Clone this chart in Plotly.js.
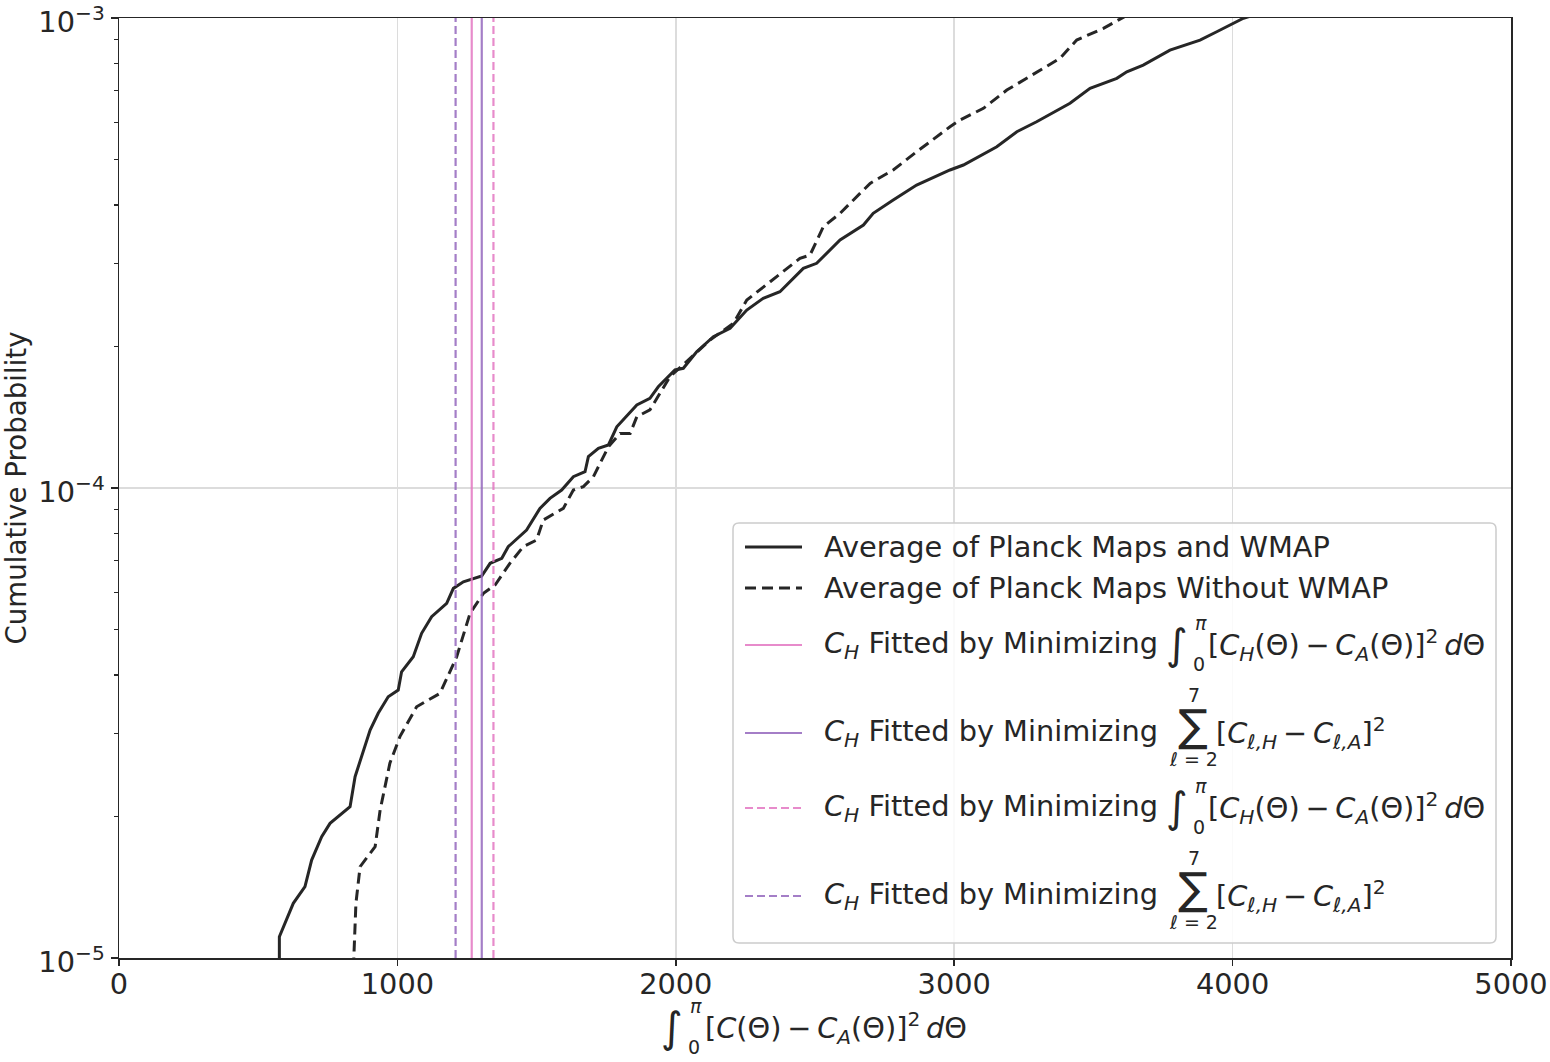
<!DOCTYPE html>
<html>
<head>
<meta charset="utf-8">
<script src="https://cdn.plot.ly/plotly-3.0.1.min.js"></script>
<style>html,body{margin:0;padding:0;background:#fff;}#chart{width:1550px;height:1062px;}</style>
</head>
<body>
<div id="chart"></div>
<script>
// ---- Data ----
const withWmapX = [576, 576, 626, 668, 692, 728, 758, 830, 848, 872, 902, 931, 967, 1003, 1015, 1057, 1087, 1123, 1177, 1201, 1237, 1303, 1333, 1375, 1398, 1464, 1512, 1548, 1590, 1632, 1674, 1686, 1722, 1758, 1788, 1860, 1907, 1937, 1997, 2027, 2075, 2135, 2195, 2255, 2314, 2374, 2458, 2506, 2590, 2674, 2709, 2781, 2865, 2985, 3033, 3153, 3225, 3296, 3416, 3488, 3584, 3620, 3679, 3775, 3883, 3943, 4039, 4090];
const withWmapY = [0.95e-5, 1.110e-5, 1.307e-5, 1.418e-5, 1.616e-5, 1.812e-5, 1.934e-5, 2.099e-5, 2.431e-5, 2.682e-5, 3.056e-5, 3.316e-5, 3.597e-5, 3.717e-5, 4.064e-5, 4.376e-5, 4.908e-5, 5.323e-5, 5.683e-5, 6.116e-5, 6.317e-5, 6.497e-5, 6.915e-5, 7.086e-5, 7.500e-5, 8.141e-5, 9.052e-5, 9.508e-5, 9.902e-5, 1.057e-4, 1.083e-4, 1.166e-4, 1.215e-4, 1.235e-4, 1.350e-4, 1.502e-4, 1.552e-4, 1.642e-4, 1.783e-4, 1.798e-4, 1.950e-4, 2.099e-4, 2.187e-4, 2.392e-4, 2.533e-4, 2.616e-4, 2.934e-4, 3.007e-4, 3.371e-4, 3.627e-4, 3.842e-4, 4.100e-4, 4.413e-4, 4.750e-4, 4.867e-4, 5.322e-4, 5.730e-4, 6.017e-4, 6.585e-4, 7.087e-4, 7.443e-4, 7.687e-4, 7.943e-4, 8.547e-4, 8.978e-4, 9.352e-4, 9.99e-4, 1.02e-3];

const withoutWmapX = [842, 851, 866, 920, 938, 973, 1009, 1069, 1153, 1213, 1261, 1309, 1351, 1404, 1452, 1500, 1524, 1596, 1632, 1668, 1704, 1758, 1800, 1836, 1860, 1907, 1979, 2123, 2207, 2255, 2339, 2446, 2482, 2530, 2590, 2638, 2698, 2781, 2865, 2985, 3021, 3105, 3189, 3320, 3380, 3440, 3536, 3589, 3630];
const withoutWmapY = [0.95e-5, 1.307e-5, 1.564e-5, 1.725e-5, 2.065e-5, 2.597e-5, 2.958e-5, 3.424e-5, 3.657e-5, 4.376e-5, 5.412e-5, 5.970e-5, 6.218e-5, 6.915e-5, 7.500e-5, 7.750e-5, 8.550e-5, 9.052e-5, 9.902e-5, 1.007e-4, 1.057e-4, 1.224e-4, 1.307e-4, 1.307e-4, 1.418e-4, 1.466e-4, 1.725e-4, 2.065e-4, 2.241e-4, 2.512e-4, 2.748e-4, 3.081e-4, 3.131e-4, 3.597e-4, 3.842e-4, 4.100e-4, 4.449e-4, 4.750e-4, 5.193e-4, 5.870e-4, 6.067e-4, 6.425e-4, 7.027e-4, 7.816e-4, 8.210e-4, 8.978e-4, 9.508e-4, 9.902e-4, 1.02e-3];

// fitted C_H values (vertical lines): integral (with WMAP), sum (with WMAP), integral (without), sum (without)
const fitLabels = ["Integral fit (with WMAP)", "Sum fit (with WMAP)", "Integral fit (without WMAP)", "Sum fit (without WMAP)"];
const fitX = [1267, 1303, 1345, 1209];

const xTicks = [0, 1000, 2000, 3000, 4000, 5000];
const yTicks = [1e-5, 1e-4, 1e-3];
const yTickText = ["10<sup>−5</sup>", "10<sup>−4</sup>", "10<sup>−3</sup>"];
const yMinorTicks = [2e-5,3e-5,4e-5,5e-5,6e-5,7e-5,8e-5,9e-5,2e-4,3e-4,4e-4,5e-4,6e-4,7e-4,8e-4,9e-4];

const legendLabels = [
  "Average of Planck Maps and WMAP",
  "Average of Planck Maps Without WMAP"
];
const TS = "\u2009"; // thin space, as in math typesetting
const fitPrefix = "<i>C<sub>H</sub></i> Fitted by Minimizing";
const integralBody = "[<i>C<sub>H</sub></i>(Θ)" + TS + "−" + TS + "<i>C<sub>A</sub></i>(Θ)]<sup>2</sup>" + TS + "<i>d</i>Θ";
const sumBody = "[<i>C<sub>ℓ,H</sub></i>" + TS + "−" + TS + "<i>C<sub>ℓ,A</sub></i>]<sup>2</sup>";
const xTitleBody = "[<i>C</i>(Θ)" + TS + "−" + TS + "<i>C<sub>A</sub></i>(Θ)]<sup>2</sup>" + TS + "<i>d</i>Θ";
const yTitle = "Cumulative Probability";

// ---- Styles ----
const FONT = "DejaVu Sans, Liberation Sans, sans-serif";
const INK = "#262626";
const PINK = "rgba(227,119,194,0.85)";
const PURPLE = "rgba(148,103,189,0.85)";
const fitColors = [PINK, PURPLE, PINK, PURPLE];
const fitDash = ["solid", "solid", "8px,4px", "8px,4px"];
const FS = 28.8;

const traces = [
  {x: withWmapX, y: withWmapY, type: "scatter", mode: "lines", name: legendLabels[0],
   line: {color: INK, width: 3}, showlegend: false},
  {x: withoutWmapX, y: withoutWmapY, type: "scatter", mode: "lines", name: legendLabels[1],
   line: {color: INK, width: 3, dash: "11px,6px"}, showlegend: false}
];
fitX.forEach((v, i) => {
  traces.push({x: [v, v], y: [yTicks[0], yTicks[2]], type: "scatter", mode: "lines",
    name: fitLabels[i], line: {color: fitColors[i], width: 2.2, dash: fitDash[i]}, showlegend: false});
});
// invisible trace to drive the tick-only overlay axes
traces.push({x: [xTicks[1]], y: [yTicks[1]], xaxis: "x2", yaxis: "y2", type: "scatter", mode: "markers",
  marker: {opacity: 0}, showlegend: false, hoverinfo: "skip"});

// ---- Pixel helpers for legend / math titles ----
const L = 119, R = 1511, T = 18, B = 958;
const px = p => (p - L) / (R - L);
const py = p => (B - p) / (B - T);

const shapes = [];
const annotations = [];
(function(){
  const x0 = 733, x1 = 1496, y0 = 523, y1 = 943, r = 6;
  const path = `M ${px(x0+r)} ${py(y0)} L ${px(x1-r)} ${py(y0)} Q ${px(x1)} ${py(y0)} ${px(x1)} ${py(y0+r)} ` +
    `L ${px(x1)} ${py(y1-r)} Q ${px(x1)} ${py(y1)} ${px(x1-r)} ${py(y1)} L ${px(x0+r)} ${py(y1)} ` +
    `Q ${px(x0)} ${py(y1)} ${px(x0)} ${py(y1-r)} L ${px(x0)} ${py(y0+r)} Q ${px(x0)} ${py(y0)} ${px(x0+r)} ${py(y0)} Z`;
  shapes.push({type: "path", xref: "paper", yref: "paper", path: path,
    line: {color: "#cccccc", width: 1.5}, fillcolor: "rgba(255,255,255,0.85)", layer: "above"});
})();

const entryY = [547, 588, 645, 733, 808, 896];
const entryColor = [INK, INK, PINK, PURPLE, PINK, PURPLE];
const entryDash = ["solid", "11px,6px", "solid", "solid", "8px,4px", "8px,4px"];
const entryWidth = [3, 3, 2.2, 2.2, 2.2, 2.2];
entryY.forEach((y, i) => {
  shapes.push({type: "line", xref: "paper", yref: "paper", x0: px(745), x1: px(802), y0: py(y), y1: py(y),
    line: {color: entryColor[i], width: entryWidth[i], dash: entryDash[i]}, layer: "above"});
});
function ann(text, x, y, xanchor, size) {
  annotations.push({text: text, xref: "paper", yref: "paper", x: px(x), y: py(y), xanchor: xanchor || "left",
    yanchor: "middle", showarrow: false, borderpad: 0, font: {family: FONT, size: size || FS, color: INK}});
}
function integral(xInt, y) {
  ann("∫", xInt, y - 1, "center", 42);
  ann("<i>π</i>", xInt + 24, y - 22, "center", 19);
  ann("0", xInt + 22, y + 19, "center", 19);
}
ann(legendLabels[0], 823, 547);
ann(legendLabels[1], 823, 588);
[645, 808].forEach(y => {
  ann(fitPrefix, 823, y);
  integral(1177, y);
  ann(integralBody, 1207, y);
});
[733, 896].forEach(y => {
  ann(fitPrefix, 823, y);
  ann("∑", 1193, y - 8, "center", 44);
  ann("7", 1194, y - 38, "center", 19);
  ann("<i>ℓ</i> = 2", 1193, y + 26, "center", 19);
  ann(sumBody, 1215, y);
});
// x axis title (math, with stacked integral limits)
integral(672, 1028);
ann(xTitleBody, 704, 1028);

const axisCommon = {showline: true, linecolor: INK, linewidth: 1.5, mirror: true, zeroline: false,
  gridcolor: "#dcdcdc", gridwidth: 1.5, tickfont: {family: FONT, size: FS, color: INK}};

const layout = {
  width: 1550, height: 1062,
  margin: {l: L, r: 1550 - R, t: T, b: 1062 - B},
  paper_bgcolor: "#ffffff", plot_bgcolor: "#ffffff",
  font: {family: FONT, size: FS, color: INK},
  showlegend: false,
  xaxis: Object.assign({}, axisCommon, {
    range: [0, 5000], tickvals: xTicks, ticktext: xTicks.map(String),
    showgrid: true, ticks: "", ticklabeloverflow: "allow"
  }),
  yaxis: Object.assign({}, axisCommon, {
    type: "log", range: [-5, -2.9999], tickvals: yTicks, ticktext: yTickText,
    showgrid: true, ticks: "outside", ticklen: 7, tickwidth: 1.5, tickcolor: INK,
    ticklabeloverflow: "allow", ticklabelshift: 4,
    title: {text: yTitle, font: {family: FONT, size: 27.7, color: INK}, standoff: 12}
  }),
  xaxis2: {
    range: [0, 5000], overlaying: "x", side: "bottom", anchor: "y2",
    tickvals: xTicks, showticklabels: false, showgrid: false, zeroline: false, showline: false,
    ticks: "outside", ticklen: 7, tickwidth: 1.5, tickcolor: INK
  },
  yaxis2: {
    type: "log", range: [-5, -2.9999], overlaying: "y", side: "left", anchor: "x2",
    tickvals: yMinorTicks, showticklabels: false, showgrid: false, zeroline: false, showline: false,
    ticks: "outside", ticklen: 4, tickwidth: 1.2, tickcolor: INK
  },
  shapes: shapes,
  annotations: annotations
};

Plotly.newPlot("chart", traces, layout, {displayModeBar: false, staticPlot: true});
</script>
</body>
</html>
